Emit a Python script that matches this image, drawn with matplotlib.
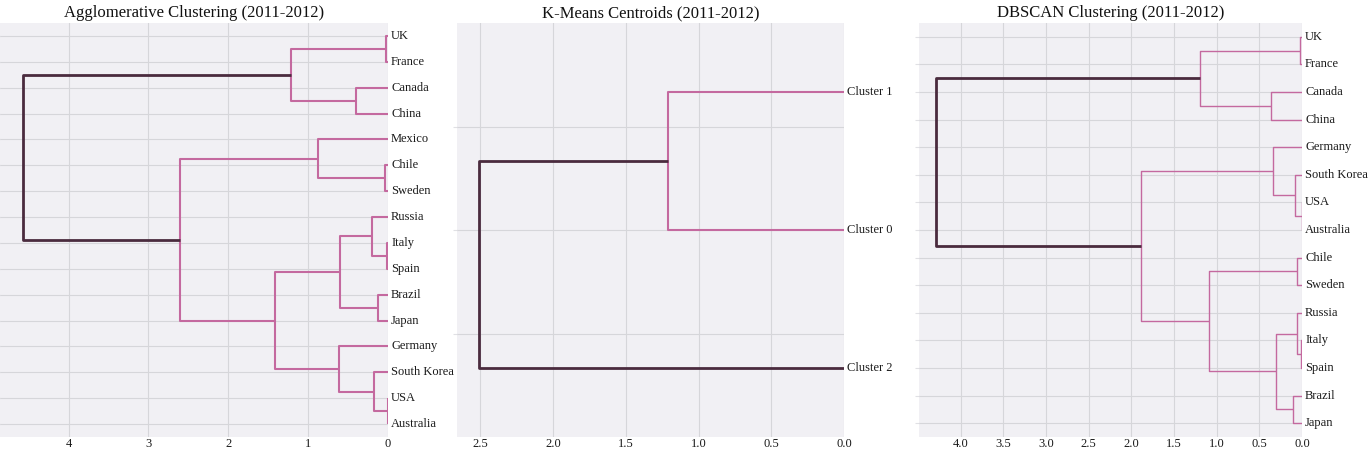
import numpy as np
import matplotlib.pyplot as plt

# leaf labels, top to bottom, and merges as (left, right, height); ids >= n are earlier merges
agg_leaves = ["UK", "France", "Canada", "China", "Mexico", "Chile", "Sweden", "Russia",
              "Italy", "Spain", "Brazil", "Japan", "Germany", "South Korea", "USA", "Australia"]
agg_merges = [(14, 15, 0.005), (8, 9, 0.01), (0, 1, 0.03), (5, 6, 0.04), (10, 11, 0.13),
              (13, 16, 0.175), (7, 17, 0.20), (2, 3, 0.40), (22, 20, 0.60), (12, 21, 0.61),
              (4, 19, 0.88), (18, 23, 1.22), (24, 25, 1.41), (26, 28, 2.61), (27, 29, 4.57)]

km_leaves = ["Cluster 1", "Cluster 0", "Cluster 2"]
km_merges = [(0, 1, 1.21), (3, 2, 2.51)]

db_leaves = ["UK", "France", "Canada", "China", "Germany", "South Korea", "USA", "Australia",
             "Chile", "Sweden", "Russia", "Italy", "Spain", "Brazil", "Japan"]
db_merges = [(6, 7, 0.005), (11, 12, 0.01), (0, 1, 0.02), (8, 9, 0.06), (10, 16, 0.06),
             (5, 15, 0.08), (13, 14, 0.11), (19, 21, 0.31), (4, 20, 0.34), (2, 3, 0.36),
             (18, 22, 1.09), (17, 24, 1.19), (23, 25, 1.89), (26, 27, 4.29)]

titles = ["Agglomerative Clustering (2011-2012)", "K-Means Centroids (2011-2012)",
          "DBSCAN Clustering (2011-2012)"]
xlims = [4.86, 2.66, 4.49]
xticks = [[0, 1, 2, 3, 4], [0, 0.5, 1.0, 1.5, 2.0, 2.5], [0, 0.5, 1.0, 1.5, 2.0, 2.5, 3.0, 3.5, 4.0]]

PINK = "#c4699f"
DARK = "#4a2b3e"
BG = "#f1f0f4"
FONT = "Liberation Serif"


def draw_dendro(ax, leaves, merges, lw_pink, lw_dark):
    n = len(leaves)
    # scipy-like coords: leaf i at 5 + 10*i, first leaf at top
    ypos = {i: 10 * (n - 1 - i) + 5 for i in range(n)}
    xpos = {i: 0.0 for i in range(n)}
    root = n + len(merges) - 1
    for k, (a, b, h) in enumerate(merges):
        node = n + k
        is_root = node == root
        c = DARK if is_root else PINK
        lw = lw_dark if is_root else lw_pink
        ax.plot([xpos[a], h, h, xpos[b]], [ypos[a], ypos[a], ypos[b], ypos[b]],
                color=c, lw=lw, solid_capstyle="butt", zorder=3)
        ypos[node] = (ypos[a] + ypos[b]) / 2
        xpos[node] = h
    for i, name in enumerate(leaves):
        ax.text(1.008, ypos[i], name, transform=ax.get_yaxis_transform(),
                ha="left", va="center", fontsize=9, family=FONT, color="#1a1a1a")
    ax.set_ylim(0, 10 * n)
    return [ypos[i] for i in range(n)]


fig = plt.figure(figsize=(13.7, 4.49), dpi=100)
W, H = 1370, 449
lefts = [0, 457, 919]
widths = [388, 387, 383]
data = [(agg_leaves, agg_merges, 1.5, 2.0), (km_leaves, km_merges, 1.5, 2.0),
        (db_leaves, db_merges, 1.0, 2.0)]

for idx in range(3):
    ax = fig.add_axes([lefts[idx] / W, 12 / H, widths[idx] / W, 414 / H])
    ax.set_facecolor(BG)
    leaves, merges, lwp, lwd = data[idx]
    leaf_y = draw_dendro(ax, leaves, merges, lwp, lwd)
    ax.set_xlim(xlims[idx], 0)
    ax.set_xticks(xticks[idx])
    if idx == 0:
        ax.set_xticklabels([str(t) for t in xticks[idx]])
        ax.set_yticks(leaf_y)
    elif idx == 1:
        ax.set_xticklabels(["%.1f" % t for t in xticks[idx]])
        ax.set_yticks([7.5, 15, 22.5])
    else:
        ax.set_xticklabels(["%.1f" % t for t in xticks[idx]])
        ax.set_yticks(leaf_y)
    ax.set_yticklabels([])
    ax.grid(True, color="#d6d6da", lw=0.8, zorder=0)
    ax.set_axisbelow(True)
    ax.tick_params(axis="x", length=0, pad=0.5)
    ax.tick_params(axis="y", length=3, color="#e0e0e4")
    for lab in ax.get_xticklabels():
        lab.set_family(FONT)
        lab.set_fontsize(9)
        lab.set_color("#1a1a1a")
    for s in ax.spines.values():
        s.set_visible(False)
    ax.set_title(titles[idx], family=FONT, fontsize=12, pad=4, color="#111111")

fig.savefig("out.png", dpi=100)
